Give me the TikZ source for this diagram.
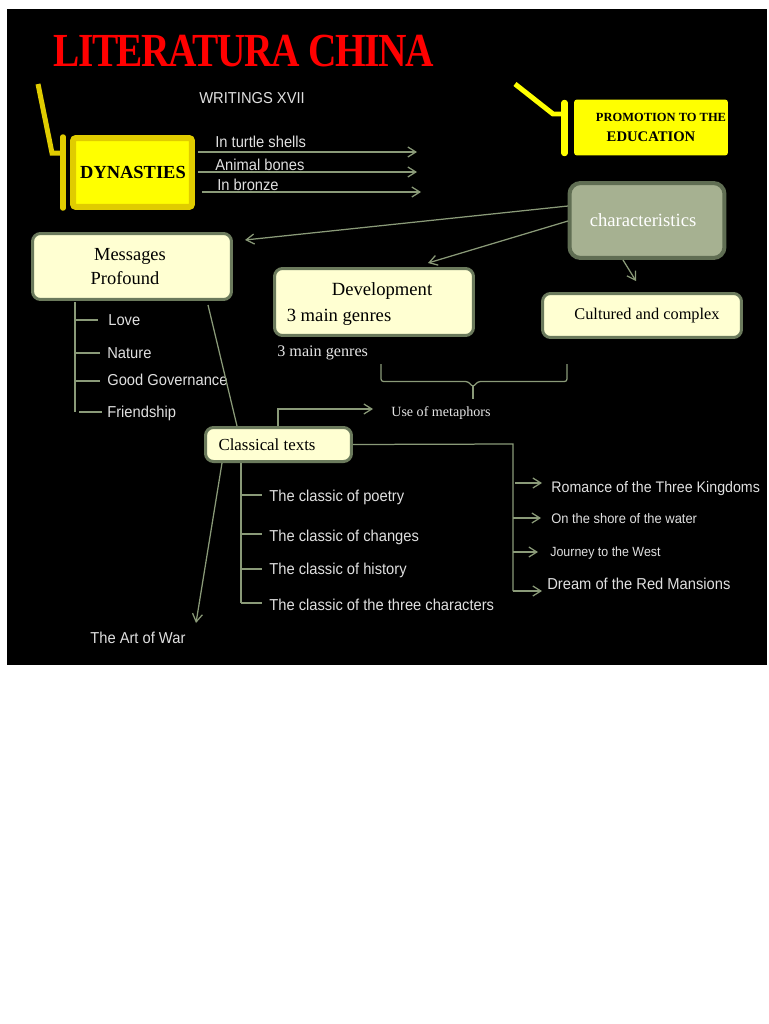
\documentclass[tikz,border=0pt]{standalone}
\usepackage{fontspec}
\setmainfont{Liberation Serif}
\setsansfont[FakeStretch=.93]{Liberation Sans}
\newfontfamily\titlefont[LetterSpace=-3,FakeStretch=.83]{Liberation Serif}
\usetikzlibrary{arrows.meta}
\definecolor{linegreen}{HTML}{8A9A78}
\definecolor{edgegreen}{HTML}{6B7A5C}
\definecolor{cream}{HTML}{FFFFD2}
\definecolor{sage}{HTML}{A6B191}
\definecolor{darkyellow}{HTML}{E0CC00}
\definecolor{brightyellow}{RGB}{255,255,0}
\newcommand{\fsz}[1]{\fontsize{#1}{#1}\selectfont}
\tikzset{
    softbox/.style={draw=edgegreen, line width=.06cm, fill=cream, rounded corners=.16cm, inner sep=0pt, align=center, text=black},
    sanslab/.style={anchor=west, inner sep=0pt, text=white!88!black, text height=.72em, text depth=.1em, font=\sffamily\fsz{9}},
    seriflab/.style={anchor=west, inner sep=0pt, text=white!90!black, text height=.68em, text depth=.1em, font=\fsz{9.2}},
    conn/.style={linegreen, line width=.025cm},
    arr/.style={conn, -{Straight Barb[length=.16cm,width=.2cm]}},
    hook/.style={line width=.1cm, line join=miter}
}
\begin{document}
\begin{tikzpicture}[x=.02cm,y=-.02cm]
\useasboundingbox (0,0) rectangle (768,1024);
\fill[black] (7,9) rectangle (767,665);

\node[anchor=west, inner sep=0pt, text=red, font=\titlefont\bfseries\fsz{27}] (title) at (53,51) {LITERATURA CHINA};
\node[sanslab] (writings) at (199,98) {WRITINGS XVII};

% yellow boxes
\draw[hook, darkyellow] (38,84) -- (52,153) -- (63,153);
\draw[darkyellow, line width=.11cm, line cap=round] (63,137) -- (63,208);
\node[draw=darkyellow, line width=.12cm, fill=brightyellow, rounded corners=.06cm, minimum width=2.38cm, minimum height=1.38cm, inner sep=0pt, font=\bfseries\fsz{10.5}] (dynasties) at (132.5,172.5) {\hspace*{.02cm}DYNASTIES};
\draw[hook, brightyellow] (515,84) -- (553,114) -- (564,114);
\draw[brightyellow, line width=.13cm, line cap=round] (564.5,103) -- (564.5,153);
\node[fill=brightyellow, rounded corners=.06cm, minimum width=3.08cm, minimum height=1.12cm, inner sep=0pt, align=center, font=\bfseries\fsz{7.1}] (promotion) at (651,127.5) {\hspace*{.4cm}PROMOTION TO THE\\[4pt]{\fsz{8.35}EDUCATION}};

% boxes
\node[softbox, minimum width=3.98cm, minimum height=1.32cm, font=\fsz{10.5}] (messages) at (132,266.5) {Messages\hspace*{.08cm}\\[3.5pt]Profound\hspace*{.28cm}};
\node[softbox, minimum width=3.98cm, minimum height=1.34cm, font=\fsz{10.6}] (development) at (374,302) {\rule{0pt}{9.5pt}\hspace*{.32cm}Development\\[4pt]3 main genres\hspace*{1.4cm}};
\node[softbox, draw=edgegreen!90!black, line width=.08cm, fill=sage, text=white, minimum width=3.1cm, minimum height=1.5cm, rounded corners=.22cm, font=\fsz{10.6}] (characteristics) at (647,220.5) {characteristics\hspace*{.16cm}};
\node[softbox, minimum width=3.98cm, minimum height=.88cm, font=\fsz{9.3}] (cultured) at (642,315.5) {\hspace*{.2cm}Cultured and complex};
\node[softbox, minimum width=2.92cm, minimum height=.68cm, font=\fsz{9.6}] (classical) at (278.5,444.5) {Classical texts\hspace*{.46cm}};

% labels
\node[sanslab] (turtle) at (215,142.5) {In turtle shells};
\node[sanslab] (bones) at (215,165) {Animal bones};
\node[sanslab] (bronze) at (217,185) {In bronze};
\node[sanslab] (love) at (108,320) {Love};
\node[sanslab] (nature) at (107,353) {Nature};
\node[sanslab] (governance) at (107,380) {Good Governance};
\node[sanslab] (friendship) at (107,412) {Friendship};
\node[seriflab] (genres) at (277,351) {3 main genres};
\node[seriflab, font=\fsz{8}] (metaphors) at (391,411) {Use of metaphors};
\node[sanslab] (poetry) at (269,496) {The classic of poetry};
\node[sanslab] (changes) at (269,536) {The classic of changes};
\node[sanslab] (history) at (269,569) {The classic of history};
\node[sanslab] (three) at (269,605) {The classic of the three characters};
\node[sanslab] (artwar) at (90,638) {The Art of War};
\node[sanslab, font=\sffamily\fsz{8.7}] (romance) at (551,487) {Romance of the Three Kingdoms};
\node[sanslab, font=\sffamily\fsz{7.9}] (shore) at (551,518) {On the shore of the water};
\node[sanslab, font=\sffamily\fsz{7.6}] (journey) at (550,551) {Journey to the West};
\node[sanslab] (dream) at (547,584) {Dream of the Red Mansions};

% free ends
\coordinate (turtleend) at (417,152);
\coordinate (bonesend) at (417,172);
\coordinate (bronzeend) at (421,192);
\coordinate (charone) at (568,206);
\coordinate (chartwo) at (568,221);
\coordinate (charthree) at (623,260);
\coordinate (msgend) at (245,240);
\coordinate (devend) at (428,263);
\coordinate (culend) at (636,281);
\coordinate (msgroot) at (75,302);
\coordinate (msgfoot) at (75,412);
\coordinate (msgout) at (208,305);
\coordinate (clsin) at (237,426);
\coordinate (clsup) at (278,426);
\coordinate (clsroot) at (241,463);
\coordinate (clsfoot) at (241,603);
\coordinate (warout) at (222,463);
\coordinate (warend) at (196,623);
\coordinate (trunk) at (513,444);
\coordinate (trunkfoot) at (513,591);

\draw[arr] (dynasties.east |- turtleend) ++(3,0) -- (turtleend);
\draw[arr] (dynasties.east |- bonesend) ++(3,0) -- (bonesend);
\draw[arr] (dynasties.east |- bronzeend) ++(7,0) -- (bronzeend);

\draw[arr] (charone) -- (msgend);
\draw[arr] (chartwo) -- (devend);
\draw[arr] (charthree) -- (culend);

\draw[conn] (msgroot) -- (msgfoot);
\draw[conn] (msgroot |- love.west) -- ([xshift=-.2cm]love.west);
\draw[conn] (msgroot |- nature.west) -- ([xshift=-.14cm]nature.west);
\draw[conn] (75,381) -- ([xshift=-.14cm]governance.west |- 0,381);
\draw[conn] (79,412) -- ([xshift=-.1cm]friendship.west);

\draw[conn] (msgout) -- (clsin);
\draw[arr] (warout) -- (warend);

% brace
\draw[conn, rounded corners=.05cm] (381,364) -- (381,381.5) -- (468,381.5) -- (473,387) -- (478,381.5) -- (567,381.5) -- (567,364);
\draw[conn] (473,385) -- (473,399);

\draw[arr] (clsup) -- (278,409) -- ([xshift=-.36cm]metaphors.west |- 0,409);

\draw[conn] (clsroot) -- (clsfoot);
\foreach \leaf/\tick in {poetry/495,changes/534,history/569,three/603}
    \draw[conn] (clsroot |- 0,\tick) -- ([xshift=-.14cm]\leaf.west |- 0,\tick);

\draw[conn] (classical.east) -- (trunk) -- (trunkfoot);
\draw[arr] (515,483) -- ([xshift=-.18cm]romance.west |- 0,483);
\draw[arr] (513,518) -- ([xshift=-.2cm]shore.west);
\draw[arr] (513,552) -- ([xshift=-.24cm]journey.west |- 0,552);
\draw[arr] (trunkfoot) -- ([xshift=-.1cm]dream.west |- 0,591);
\end{tikzpicture}
\end{document}
